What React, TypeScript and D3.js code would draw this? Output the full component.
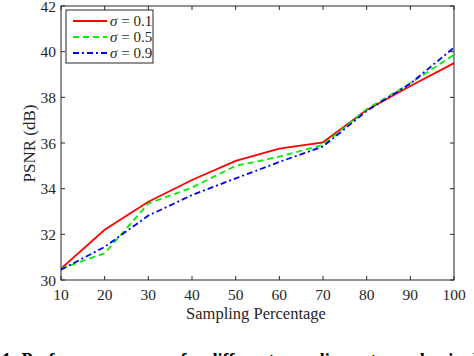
import React from "react";
import * as d3 from "d3";

const samplingPercent = [10, 20, 30, 40, 50, 60, 70, 80, 90, 100];
const sigma01 = [30.5, 32.2, 33.43, 34.38, 35.22, 35.75, 36.03, 37.45, 38.5, 39.5];
const sigma05 = [30.5, 31.17, 33.35, 34.05, 35.0, 35.4, 35.92, 37.48, 38.62, 39.86];
const sigma09 = [30.45, 31.45, 32.82, 33.72, 34.45, 35.17, 35.85, 37.4, 38.6, 40.18];
const seriesLabels = ["0.1", "0.5", "0.9"];
const xTicks = [10, 20, 30, 40, 50, 60, 70, 80, 90, 100];
const yTicks = [30, 32, 34, 36, 38, 40, 42];

const W = 474, H = 356;
const L = 61, R = 454, T = 6, B = 280;
const axisColor = "#262626";
const font = "'Liberation Serif', 'Times New Roman', serif";

export default function App() {
  const x = d3.scaleLinear().domain([10, 100]).range([L, R]);
  const y = d3.scaleLinear().domain([30, 42]).range([B, T]);
  const line = d3.line<number>().x((_, i) => x(samplingPercent[i])).y((d) => y(d));
  const series = [
    { data: sigma01, color: "#ff0000", dash: "none" },
    { data: sigma05, color: "#00ee00", dash: "6,4" },
    { data: sigma09, color: "#0000ee", dash: "6,3,2,3" },
  ];
  const tl = 4;
  return (
    <svg width={W} height={H} style={{ position: "absolute", left: 0, top: 0 }} fontFamily={font}>
      <rect x={0} y={0} width={W} height={H} fill="#fff" />
      {series.map((s, i) => (
        <path key={i} d={line(s.data) || ""} fill="none" stroke={s.color} strokeWidth={1.8} strokeDasharray={s.dash} />
      ))}
      <rect x={L} y={T} width={R - L} height={B - T} fill="none" stroke={axisColor} strokeWidth={1} />
      {xTicks.map((t) => (
        <g key={"x" + t}>
          <line x1={x(t)} x2={x(t)} y1={B} y2={B - tl} stroke={axisColor} />
          <line x1={x(t)} x2={x(t)} y1={T} y2={T + tl} stroke={axisColor} />
          <text x={x(t)} y={B + 20} textAnchor="middle" fontSize={15.5} fill={axisColor}>{t}</text>
        </g>
      ))}
      {yTicks.map((t) => (
        <g key={"y" + t}>
          <line x1={L} x2={L + tl} y1={y(t)} y2={y(t)} stroke={axisColor} />
          <line x1={R} x2={R - tl} y1={y(t)} y2={y(t)} stroke={axisColor} />
          <text x={L - 5} y={y(t) + 5.5} textAnchor="end" fontSize={15.5} fill={axisColor}>{t}</text>
        </g>
      ))}
      <text x={256} y={319} textAnchor="middle" fontSize={16.5} fill={axisColor}>Sampling Percentage</text>
      <text transform={`translate(35,143.5) rotate(-90)`} textAnchor="middle" fontSize={17} fill={axisColor}>PSNR (dB)</text>
      <rect x={66} y={10} width={87} height={53} fill="#fff" stroke={axisColor} strokeWidth={1} />
      {series.map((s, i) => (
        <g key={"l" + i}>
          <line x1={73} x2={107} y1={21 + i * 16} y2={21 + i * 16} stroke={s.color} strokeWidth={1.8} strokeDasharray={s.dash} />
          <text x={110} y={26 + i * 16} fontSize={15} fill={axisColor}>
            <tspan fontStyle="italic">σ</tspan> = {seriesLabels[i]}
          </text>
        </g>
      ))}
      <text x={2} y={366} fontSize={18} fontWeight="bold" fill="#000">1: Performance curves for different sampling rates and noise levels</text>
    </svg>
  );
}
